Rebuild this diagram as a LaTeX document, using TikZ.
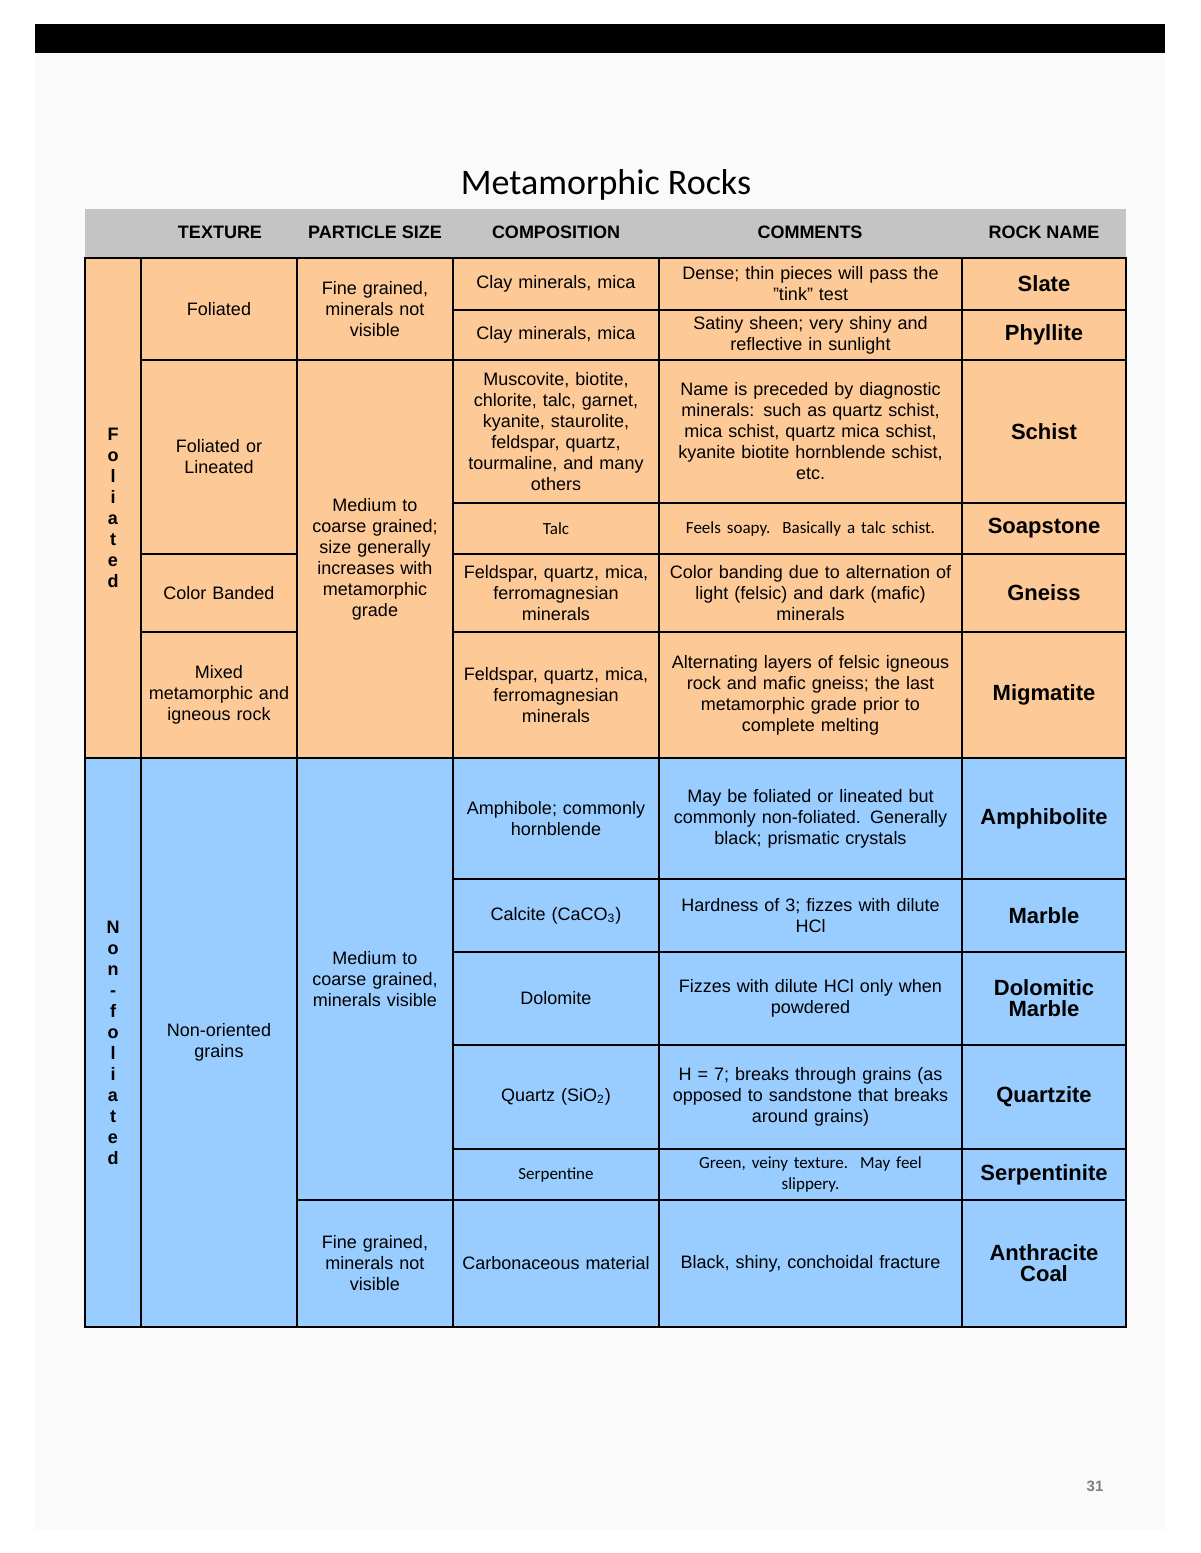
\documentclass[tikz,border=0pt]{standalone}
\usepackage{fontspec}
\setmainfont{Liberation Sans}
\newfontfamily\carl{Carlito}
\definecolor{org}{HTML}{FDC996}
\definecolor{blu}{HTML}{99CCFF}
\definecolor{hdr}{HTML}{C4C4C4}
\newcommand{\cell}[7]{%
 \pgfmathsetmacro{\cw}{(#4-#2)*0.5}\pgfmathsetmacro{\ch}{(#5-#3)*0.5}%
 \pgfmathsetmacro{\cx}{(#2+#4)/2}\pgfmathsetmacro{\cy}{(#3+#5)/2}%
 \node[cellbox,fill=#6,minimum width=\cw pt,minimum height=\ch pt,text width=\cw pt-4pt] (#1) at (\cx,\cy) {#7};}
\begin{document}
\begin{tikzpicture}[x=0.5pt,y=-0.5pt,
 cellbox/.style={draw=black,line width=1pt,inner sep=0pt,align=center,font=\fontsize{9}{10.5}\selectfont},
 rn/.style={font=\bfseries\fontsize{11}{12}\selectfont},
 hd/.style={font=\bfseries\fontsize{9}{10}\selectfont}]
\useasboundingbox (0,0) rectangle (1200,1553);
\fill[white] (0,0) rectangle (1200,1553);
\fill[black!2] (35,53) rectangle (1165,1530);
\fill[black] (35,24) rectangle (1165,53);
\node[font=\carl\fontsize{18}{20}\selectfont] (title) at (606,185) {Metamorphic Rocks};
\fill[hdr] (85,209) rectangle (1126,258);
\node[hd] (h1) at (220,232) {TEXTURE};
\node[hd] (h2) at (375,232) {PARTICLE SIZE};
\node[hd] (h3) at (556,232) {COMPOSITION};
\node[hd] (h4) at (810,232) {COMMENTS};
\node[hd] (h5) at (1044,232) {ROCK NAME};
% left column
\cell{fol}{85}{258}{141}{758}{org}{\bfseries F\\o\\l\\i\\a\\t\\e\\d}
\cell{nfol}{85}{758}{141}{1327}{blu}{\bfseries N\\o\\n\\-\\f\\o\\l\\i\\a\\t\\e\\d}
% texture
\cell{t1}{141}{258}{297}{360}{org}{Foliated}
\cell{t2}{141}{360}{297}{554}{org}{Foliated or\\Lineated}
\cell{t3}{141}{554}{297}{632}{org}{Color Banded}
\cell{t4}{141}{632}{297}{758}{org}{Mixed\\metamorphic and\\igneous rock}
\cell{t5}{141}{758}{297}{1327}{blu}{Non-oriented\\grains}
% particle
\cell{p1}{297}{258}{453}{360}{org}{Fine grained,\\minerals not\\visible}
\cell{p2}{297}{360}{453}{758}{org}{Medium to\\coarse grained;\\size generally\\increases with\\metamorphic\\grade}
\cell{p3}{297}{758}{453}{1200}{blu}{Medium to\\coarse grained,\\minerals visible}
\cell{p4}{297}{1200}{453}{1327}{blu}{Fine grained,\\minerals not\\visible}
% composition
\cell{c1}{453}{258}{659}{310}{org}{Clay minerals, mica}
\cell{c2}{453}{310}{659}{360}{org}{Clay minerals, mica}
\cell{c3}{453}{360}{659}{503}{org}{Muscovite, biotite,\\chlorite, talc, garnet,\\kyanite, staurolite,\\feldspar, quartz,\\tourmaline, and many\\others}
\cell{c4}{453}{503}{659}{554}{org}{\carl\fontsize{8.5}{10}\selectfont Talc}
\cell{c5}{453}{554}{659}{632}{org}{Feldspar, quartz, mica,\\ferromagnesian\\minerals}
\cell{c6}{453}{632}{659}{758}{org}{Feldspar, quartz, mica,\\ferromagnesian\\minerals}
\cell{c7}{453}{758}{659}{879}{blu}{Amphibole; commonly\\hornblende}
\cell{c8}{453}{879}{659}{952}{blu}{Calcite (CaCO\textsubscript{3})}
\cell{c9}{453}{952}{659}{1045}{blu}{Dolomite}
\cell{c10}{453}{1045}{659}{1149}{blu}{Quartz (SiO\textsubscript{2})}
\cell{c11}{453}{1149}{659}{1200}{blu}{\carl\fontsize{8.5}{10}\selectfont Serpentine}
\cell{c12}{453}{1200}{659}{1327}{blu}{Carbonaceous material}
% comments
\cell{m1}{659}{258}{962}{310}{org}{Dense; thin pieces will pass the\\"tink" test}
\cell{m2}{659}{310}{962}{360}{org}{Satiny sheen; very shiny and\\reflective in sunlight}
\cell{m3}{659}{360}{962}{503}{org}{Name is preceded by diagnostic\\minerals: such as quartz schist,\\mica schist, quartz mica schist,\\kyanite biotite hornblende schist,\\etc.}
\cell{m4}{659}{503}{962}{554}{org}{\carl\fontsize{8.5}{10}\selectfont Feels soapy.\ \ Basically a talc schist.}
\cell{m5}{659}{554}{962}{632}{org}{Color banding due to alternation of\\light (felsic) and dark (mafic)\\minerals}
\cell{m6}{659}{632}{962}{758}{org}{Alternating layers of felsic igneous\\rock and mafic gneiss; the last\\metamorphic grade prior to\\complete melting}
\cell{m7}{659}{758}{962}{879}{blu}{May be foliated or lineated but\\commonly non-foliated. Generally\\black; prismatic crystals}
\cell{m8}{659}{879}{962}{952}{blu}{Hardness of 3; fizzes with dilute\\HCl}
\cell{m9}{659}{952}{962}{1045}{blu}{Fizzes with dilute HCl only when\\powdered}
\cell{m10}{659}{1045}{962}{1149}{blu}{H = 7; breaks through grains (as\\opposed to sandstone that breaks\\around grains)}
\cell{m11}{659}{1149}{962}{1200}{blu}{\carl\fontsize{8.5}{12}\selectfont Green, veiny texture.\ \ May feel\\slippery.}
\cell{m12}{659}{1200}{962}{1327}{blu}{Black, shiny, conchoidal fracture}
% rock names
\cell{r1}{962}{258}{1126}{310}{org}{\bfseries\fontsize{11}{12}\selectfont Slate}
\cell{r2}{962}{310}{1126}{360}{org}{\bfseries\fontsize{11}{12}\selectfont Phyllite}
\cell{r3}{962}{360}{1126}{503}{org}{\bfseries\fontsize{11}{12}\selectfont Schist}
\cell{r4}{962}{503}{1126}{554}{org}{\bfseries\fontsize{11}{12}\selectfont Soapstone}
\cell{r5}{962}{554}{1126}{632}{org}{\bfseries\fontsize{11}{12}\selectfont Gneiss}
\cell{r6}{962}{632}{1126}{758}{org}{\bfseries\fontsize{11}{12}\selectfont Migmatite}
\cell{r7}{962}{758}{1126}{879}{blu}{\bfseries\fontsize{11}{12}\selectfont Amphibolite}
\cell{r8}{962}{879}{1126}{952}{blu}{\bfseries\fontsize{11}{12}\selectfont Marble}
\cell{r9}{962}{952}{1126}{1045}{blu}{\bfseries\fontsize{11}{12}\selectfont Dolomitic\\Marble}
\cell{r10}{962}{1045}{1126}{1149}{blu}{\bfseries\fontsize{11}{12}\selectfont Quartzite}
\cell{r11}{962}{1149}{1126}{1200}{blu}{\bfseries\fontsize{11}{12}\selectfont Serpentinite}
\cell{r12}{962}{1200}{1126}{1327}{blu}{\bfseries\fontsize{11}{12}\selectfont Anthracite\\Coal}
\draw[line width=1.2pt] (85,258) rectangle (1126,1327);
\node[font=\bfseries\fontsize{7.5}{8}\selectfont,text=black!50] (pg) at (1095,1486) {31};
\end{tikzpicture}
\end{document}
